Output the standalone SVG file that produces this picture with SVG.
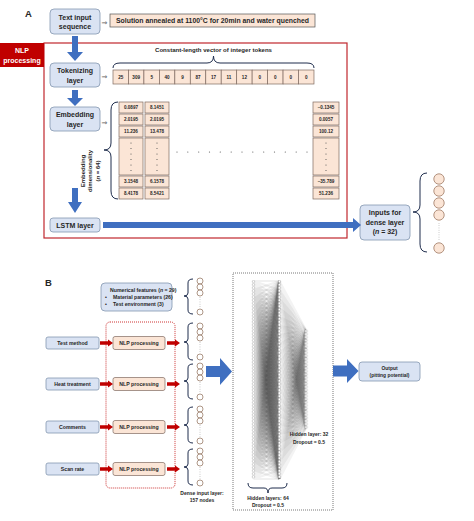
<svg xmlns="http://www.w3.org/2000/svg" xmlns:xlink="http://www.w3.org/1999/xlink" width="474" height="521" viewBox="0 0 474 521">
<style>
.t{font-family:"Liberation Sans",Arial,sans-serif;font-weight:bold;fill:#262626;text-anchor:middle}
.bl{fill:#dae3f3;stroke:#8497b0;stroke-width:0.8}
.pc{fill:#fbe5d6;stroke:#7f6a60;stroke-width:0.7}
.br{fill:none;stroke:#1f2d4d;stroke-width:1}
.ba{fill:#3f6fc0}
.ra{fill:#c00000}
.cir{fill:#fbe5d6;stroke:#a07a64;stroke-width:0.8}
.cb{fill:#fff;stroke:#8c6b55;stroke-width:0.7}
.dl{stroke:#999;stroke-width:0.7;stroke-dasharray:0.7 1.6}
.ar{font-family:"DejaVu Sans",sans-serif;font-size:7px;fill:#595959;text-anchor:middle}
.f1{fill:none;stroke:#333;stroke-opacity:0.07;stroke-width:2;vector-effect:non-scaling-stroke}
.f2{fill:none;stroke:#333;stroke-opacity:0.06;stroke-width:2;vector-effect:non-scaling-stroke}
</style>
<defs>
<pattern id="nd" x="0" y="0" width="5" height="3.1" patternUnits="userSpaceOnUse">
<circle cx="2.5" cy="1.55" r="1.3" fill="#fff" stroke="#aaa" stroke-width="0.5"/>
</pattern>
<rect id="col64" x="0" y="0" width="5" height="198.4" fill="url(#nd)"/>
<rect id="col32" x="0" y="0" width="5" height="99.2" fill="url(#nd)"/>
<path id="fan1" class="f1" d="M0 0L26 0M0 0L26 9M0 0L26 18M0 0L26 27M0 0L26 36M0 0L26 45M0 0L26 54M0 0L26 63M0 0L26 72M0 0L26 81M0 0L26 90M0 0L26 99M0 0L26 108M0 0L26 117M0 0L26 126M0 0L26 135M0 0L26 144M0 0L26 153M0 0L26 162M0 0L26 171M0 0L26 180M0 0L26 189M0 0L26 198"/>
<path id="fan2" class="f2" d="M0 0L26.5 49M0 0L26.5 57.9M0 0L26.5 66.8M0 0L26.5 75.7M0 0L26.5 84.6M0 0L26.5 93.5M0 0L26.5 102.5M0 0L26.5 111.4M0 0L26.5 120.3M0 0L26.5 129.2M0 0L26.5 138.1M0 0L26.5 147"/>
</defs>
<rect width="474" height="521" fill="#fff"/>

<!-- Panel A -->
<text class="t" x="28.5" y="17" font-size="9.5">A</text>

<g id="nlp-frame">
<rect x="44" y="43" width="303" height="195" fill="none" stroke="#c0272d" stroke-width="1.2"/>
<rect x="0" y="43" width="44" height="24" fill="#c00000"/>
<text class="t" x="22" y="53" font-size="7" style="fill:#fff">NLP</text>
<text class="t" x="22" y="62.5" font-size="7" style="fill:#fff">processing</text>
</g>

<g id="text-input">
<rect class="bl" x="50" y="9" width="50" height="25" rx="4"/>
<text class="t" x="75" y="19.5" font-size="7">Text input</text>
<text class="t" x="75" y="29" font-size="7">sequence</text>
</g>
<g id="solution">
<rect class="pc" x="110" y="14" width="205" height="13" style="stroke:#555"/>
<text class="t" x="212.5" y="23.2" font-size="7.2" textLength="193" lengthAdjust="spacingAndGlyphs">Solution annealed at 1100°C for 20min and water quenched</text>
</g>

<g id="tokenizing">
<rect class="bl" x="50" y="63" width="50" height="24" rx="4"/>
<text class="t" x="75" y="73" font-size="7">Tokenizing</text>
<text class="t" x="75" y="82.5" font-size="7">layer</text>
</g>

<g id="tokens">
<text class="t" x="213.5" y="51.5" font-size="6" textLength="117" lengthAdjust="spacingAndGlyphs">Constant-length vector of integer tokens</text>
<path class="br" d="M113,68 Q113,63 120,63 L207,63 Q213.5,63 213.5,56 Q213.5,63 220,63 L307,63 Q314,63 314,68"/>
<g font-size="4.6">
<rect class="pc" x="113" y="70" width="15.46" height="14"/><text class="t" x="120.7" y="78.8">25</text>
<rect class="pc" x="128.46" y="70" width="15.46" height="14"/><text class="t" x="136.2" y="78.8">309</text>
<rect class="pc" x="143.92" y="70" width="15.46" height="14"/><text class="t" x="151.7" y="78.8">5</text>
<rect class="pc" x="159.38" y="70" width="15.46" height="14"/><text class="t" x="167.1" y="78.8">40</text>
<rect class="pc" x="174.84" y="70" width="15.46" height="14"/><text class="t" x="182.6" y="78.8">9</text>
<rect class="pc" x="190.3" y="70" width="15.46" height="14"/><text class="t" x="198" y="78.8">87</text>
<rect class="pc" x="205.76" y="70" width="15.46" height="14"/><text class="t" x="213.5" y="78.8">17</text>
<rect class="pc" x="221.22" y="70" width="15.46" height="14"/><text class="t" x="229" y="78.8">11</text>
<rect class="pc" x="236.68" y="70" width="15.46" height="14"/><text class="t" x="244.4" y="78.8">12</text>
<rect class="pc" x="252.14" y="70" width="15.46" height="14"/><text class="t" x="259.9" y="78.8">0</text>
<rect class="pc" x="267.6" y="70" width="15.46" height="14"/><text class="t" x="275.3" y="78.8">0</text>
<rect class="pc" x="283.06" y="70" width="15.46" height="14"/><text class="t" x="290.8" y="78.8">0</text>
<rect class="pc" x="298.52" y="70" width="15.46" height="14"/><text class="t" x="306.3" y="78.8">0</text>
</g>
</g>

<g id="embedding">
<rect class="bl" x="50" y="107" width="50" height="24" rx="4"/>
<text class="t" x="75" y="117" font-size="7">Embedding</text>
<text class="t" x="75" y="126.5" font-size="7">layer</text>
</g>

<g id="embedding-matrix">
<path class="br" d="M118,102 Q111,102 111,110 L111,143 Q111,150 104,150 Q111,150 111,157 L111,191 Q111,199 118,199"/>
<g font-size="6">
<text class="t" transform="translate(85 171) rotate(-90)">Embedding</text>
<text class="t" transform="translate(92.3 171) rotate(-90)">dimensionality</text>
<text class="t" transform="translate(99.6 171) rotate(-90)">(<tspan font-style="italic">n</tspan> = 64)</text>
</g>
<g font-size="4.6">
<rect class="pc" x="119" y="102" width="24" height="11"/><text class="t" x="131" y="109.2">0.0897</text>
<rect class="pc" x="119" y="114" width="24" height="11"/><text class="t" x="131" y="121.2">2.0195</text>
<rect class="pc" x="119" y="126" width="24" height="11"/><text class="t" x="131" y="133.2">11.236</text>
<rect class="pc" x="119" y="138" width="24" height="37"/>
<rect class="pc" x="119" y="176" width="24" height="11"/><text class="t" x="131" y="183.2">3.1548</text>
<rect class="pc" x="119" y="188" width="24" height="11"/><text class="t" x="131" y="195.2">8.4178</text>
<rect class="pc" x="145" y="102" width="24" height="11"/><text class="t" x="157" y="109.2">8.1451</text>
<rect class="pc" x="145" y="114" width="24" height="11"/><text class="t" x="157" y="121.2">2.0195</text>
<rect class="pc" x="145" y="126" width="24" height="11"/><text class="t" x="157" y="133.2">13.478</text>
<rect class="pc" x="145" y="138" width="24" height="37"/>
<rect class="pc" x="145" y="176" width="24" height="11"/><text class="t" x="157" y="183.2">6.1578</text>
<rect class="pc" x="145" y="188" width="24" height="11"/><text class="t" x="157" y="195.2">8.5421</text>
<rect class="pc" x="313" y="102" width="26" height="11"/><text class="t" x="326" y="109.2">−0.1345</text>
<rect class="pc" x="313" y="114" width="26" height="11"/><text class="t" x="326" y="121.2">0.0057</text>
<rect class="pc" x="313" y="126" width="26" height="11"/><text class="t" x="326" y="133.2">100.12</text>
<rect class="pc" x="313" y="138" width="26" height="37"/>
<rect class="pc" x="313" y="176" width="26" height="11"/><text class="t" x="326" y="183.2">−35.789</text>
<rect class="pc" x="313" y="188" width="26" height="11"/><text class="t" x="326" y="195.2">51.236</text>
</g>
<g fill="#555">
<circle cx="131" cy="143" r="0.6"/><circle cx="131" cy="148.5" r="0.6"/><circle cx="131" cy="154" r="0.6"/><circle cx="131" cy="159.5" r="0.6"/><circle cx="131" cy="165" r="0.6"/><circle cx="131" cy="170.5" r="0.6"/>
<circle cx="157" cy="143" r="0.6"/><circle cx="157" cy="148.5" r="0.6"/><circle cx="157" cy="154" r="0.6"/><circle cx="157" cy="159.5" r="0.6"/><circle cx="157" cy="165" r="0.6"/><circle cx="157" cy="170.5" r="0.6"/>
<circle cx="326" cy="143" r="0.6"/><circle cx="326" cy="148.5" r="0.6"/><circle cx="326" cy="154" r="0.6"/><circle cx="326" cy="159.5" r="0.6"/><circle cx="326" cy="165" r="0.6"/><circle cx="326" cy="170.5" r="0.6"/>
<circle cx="177" cy="152" r="0.6"/><circle cx="187.8" cy="152" r="0.6"/><circle cx="198.7" cy="152" r="0.6"/><circle cx="209.5" cy="152" r="0.6"/><circle cx="220.3" cy="152" r="0.6"/><circle cx="231.2" cy="152" r="0.6"/><circle cx="242" cy="152" r="0.6"/><circle cx="252.8" cy="152" r="0.6"/><circle cx="263.7" cy="152" r="0.6"/><circle cx="274.5" cy="152" r="0.6"/><circle cx="285.3" cy="152" r="0.6"/><circle cx="296.2" cy="152" r="0.6"/><circle cx="307" cy="152" r="0.6"/>
</g>
</g>

<g id="lstm">
<rect class="bl" x="50" y="218" width="50" height="14" rx="3"/>
<text class="t" x="75" y="227.6" font-size="7">LSTM layer</text>
</g>

<g id="dense-inputs">
<rect class="bl" x="360" y="205" width="50" height="35" rx="4"/>
<text class="t" x="385" y="215" font-size="7">Inputs for</text>
<text class="t" x="385" y="224.5" font-size="7">dense layer</text>
<text class="t" x="385" y="234" font-size="7">(<tspan font-style="italic">n</tspan> = 32)</text>
</g>

<g id="dense-nodes-a">
<path class="br" d="M427,173 Q420,173 420,181 L420,205 Q420,212 413,212 Q420,212 420,219 L420,244 Q420,252 427,252"/>
<circle class="cir" cx="439" cy="179" r="5.2"/>
<circle class="cir" cx="439" cy="191" r="5.2"/>
<circle class="cir" cx="439" cy="203" r="5.2"/>
<circle class="cir" cx="439" cy="215" r="5.2"/>
<line class="dl" x1="439" y1="223" x2="439" y2="241"/>
<circle class="cir" cx="439" cy="248" r="5.2"/>
</g>

<!-- Panel B -->
<text class="t" x="48.5" y="286" font-size="9.5">B</text>

<g id="numerical">
<rect class="bl" x="101" y="283" width="71" height="28" rx="4"/>
<g font-size="5.2" style="text-anchor:start">
<text class="t" x="110" y="291.5" style="text-anchor:start">Numerical features (<tspan font-style="italic">n</tspan> = 29)</text>
<text class="t" x="105" y="298.8" style="text-anchor:start">•</text><text class="t" x="113" y="298.8" style="text-anchor:start">Material parameters (26)</text>
<text class="t" x="105" y="306" style="text-anchor:start">•</text><text class="t" x="113" y="306" style="text-anchor:start">Test environment (3)</text>
</g>
</g>

<g id="nlp-group">
<rect x="106" y="322" width="69" height="166" rx="4" fill="none" stroke="#c00000" stroke-width="0.8" stroke-dasharray="1 1"/>
</g>

<g id="test-method">
<rect class="bl" x="46" y="337" width="53" height="12" rx="2"/>
<text class="t" x="72.5" y="344.8" font-size="5.2">Test method</text>
</g>
<g id="heat-treatment">
<rect class="bl" x="46" y="378" width="53" height="12" rx="2"/>
<text class="t" x="72.5" y="385.8" font-size="5.2">Heat treatment</text>
</g>
<g id="comments">
<rect class="bl" x="46" y="421" width="53" height="12" rx="2"/>
<text class="t" x="72.5" y="428.8" font-size="5.2">Comments</text>
</g>
<g id="scan-rate">
<rect class="bl" x="46" y="463" width="53" height="12" rx="2"/>
<text class="t" x="72.5" y="470.8" font-size="5.2">Scan rate</text>
</g>

<g id="nlp1"><rect class="pc" x="113" y="336.5" width="52" height="13" rx="2"/><text class="t" x="139" y="344.8" font-size="5.2">NLP processing</text></g>
<g id="nlp2"><rect class="pc" x="113" y="377.5" width="52" height="13" rx="2"/><text class="t" x="139" y="385.8" font-size="5.2">NLP processing</text></g>
<g id="nlp3"><rect class="pc" x="113" y="420.5" width="52" height="13" rx="2"/><text class="t" x="139" y="428.8" font-size="5.2">NLP processing</text></g>
<g id="nlp4"><rect class="pc" x="113" y="462.5" width="52" height="13" rx="2"/><text class="t" x="139" y="470.8" font-size="5.2">NLP processing</text></g>

<g id="dense-input-layer">
<path class="br" d="M193,279 Q188,279 188,283 L188,293 Q188,296 184,296 Q188,296 188,299 L188,310 Q188,314 193,314"/>
<path class="br" d="M193,323 Q188,323 188,327 L188,339 Q188,342 184,342 Q188,342 188,345 L188,356 Q188,360 193,360"/>
<path class="br" d="M193,364 Q188,364 188,368 L188,378 Q188,381 184,381 Q188,381 188,384 L188,395 Q188,399 193,399"/>
<path class="br" d="M193,407 Q188,407 188,411 L188,422 Q188,425 184,425 Q188,425 188,428 L188,439 Q188,443 193,443"/>
<path class="br" d="M193,449 Q188,449 188,453 L188,464 Q188,467 184,467 Q188,467 188,470 L188,481 Q188,485 193,485"/>
<circle class="cb" cx="200" cy="281" r="3"/><circle class="cb" cx="200" cy="287" r="3"/><circle class="cb" cx="200" cy="293" r="3"/><line class="dl" x1="200" y1="297" x2="200" y2="308"/><circle class="cb" cx="200" cy="312" r="3"/>
<circle class="cb" cx="200" cy="326" r="3"/><circle class="cb" cx="200" cy="332" r="3"/><circle class="cb" cx="200" cy="338" r="3"/><line class="dl" x1="200" y1="342" x2="200" y2="353"/><circle class="cb" cx="200" cy="357" r="3"/>
<circle class="cb" cx="200" cy="366" r="3"/><circle class="cb" cx="200" cy="372" r="3"/><circle class="cb" cx="200" cy="378" r="3"/><line class="dl" x1="200" y1="382" x2="200" y2="393"/><circle class="cb" cx="200" cy="397" r="3"/>
<circle class="cb" cx="200" cy="409" r="3"/><circle class="cb" cx="200" cy="415" r="3"/><circle class="cb" cx="200" cy="421" r="3"/><line class="dl" x1="200" y1="425" x2="200" y2="437"/><circle class="cb" cx="200" cy="441" r="3"/>
<circle class="cb" cx="200" cy="451" r="3"/><circle class="cb" cx="200" cy="457" r="3"/><circle class="cb" cx="200" cy="463" r="3"/><line class="dl" x1="200" y1="467" x2="200" y2="479"/><circle class="cb" cx="200" cy="483" r="3"/>
<text class="t" x="202" y="494.5" font-size="5">Dense input layer:</text>
<text class="t" x="202" y="501.5" font-size="5">157 nodes</text>
</g>

<g id="hidden-network">
<rect x="233" y="273" width="100" height="237" fill="none" stroke="#555" stroke-width="0.8" stroke-dasharray="1 1"/>
<use xlink:href="#fan1" transform="matrix(1 0 0 1 253.5 281)"/>
<use xlink:href="#fan1" transform="matrix(1 -0.3462 0 1 253.5 290)"/>
<use xlink:href="#fan1" transform="matrix(1 -0.6923 0 1 253.5 299)"/>
<use xlink:href="#fan1" transform="matrix(1 -1.0385 0 1 253.5 308)"/>
<use xlink:href="#fan1" transform="matrix(1 -1.3846 0 1 253.5 317)"/>
<use xlink:href="#fan1" transform="matrix(1 -1.7308 0 1 253.5 326)"/>
<use xlink:href="#fan1" transform="matrix(1 -2.0769 0 1 253.5 335)"/>
<use xlink:href="#fan1" transform="matrix(1 -2.4231 0 1 253.5 344)"/>
<use xlink:href="#fan1" transform="matrix(1 -2.7692 0 1 253.5 353)"/>
<use xlink:href="#fan1" transform="matrix(1 -3.1154 0 1 253.5 362)"/>
<use xlink:href="#fan1" transform="matrix(1 -3.4615 0 1 253.5 371)"/>
<use xlink:href="#fan1" transform="matrix(1 -3.8077 0 1 253.5 380)"/>
<use xlink:href="#fan1" transform="matrix(1 -4.1538 0 1 253.5 389)"/>
<use xlink:href="#fan1" transform="matrix(1 -4.5 0 1 253.5 398)"/>
<use xlink:href="#fan1" transform="matrix(1 -4.8462 0 1 253.5 407)"/>
<use xlink:href="#fan1" transform="matrix(1 -5.1923 0 1 253.5 416)"/>
<use xlink:href="#fan1" transform="matrix(1 -5.5385 0 1 253.5 425)"/>
<use xlink:href="#fan1" transform="matrix(1 -5.8846 0 1 253.5 434)"/>
<use xlink:href="#fan1" transform="matrix(1 -6.2308 0 1 253.5 443)"/>
<use xlink:href="#fan1" transform="matrix(1 -6.5769 0 1 253.5 452)"/>
<use xlink:href="#fan1" transform="matrix(1 -6.9231 0 1 253.5 461)"/>
<use xlink:href="#fan1" transform="matrix(1 -7.2692 0 1 253.5 470)"/>
<use xlink:href="#fan1" transform="matrix(1 -7.6154 0 1 253.5 479)"/>
<use xlink:href="#fan2" transform="matrix(1 0 0 1 279.5 281)"/>
<use xlink:href="#fan2" transform="matrix(1 -0.3396 0 1 279.5 290)"/>
<use xlink:href="#fan2" transform="matrix(1 -0.6792 0 1 279.5 299)"/>
<use xlink:href="#fan2" transform="matrix(1 -1.0189 0 1 279.5 308)"/>
<use xlink:href="#fan2" transform="matrix(1 -1.3585 0 1 279.5 317)"/>
<use xlink:href="#fan2" transform="matrix(1 -1.6981 0 1 279.5 326)"/>
<use xlink:href="#fan2" transform="matrix(1 -2.0377 0 1 279.5 335)"/>
<use xlink:href="#fan2" transform="matrix(1 -2.3774 0 1 279.5 344)"/>
<use xlink:href="#fan2" transform="matrix(1 -2.717 0 1 279.5 353)"/>
<use xlink:href="#fan2" transform="matrix(1 -3.0566 0 1 279.5 362)"/>
<use xlink:href="#fan2" transform="matrix(1 -3.3962 0 1 279.5 371)"/>
<use xlink:href="#fan2" transform="matrix(1 -3.7358 0 1 279.5 380)"/>
<use xlink:href="#fan2" transform="matrix(1 -4.0755 0 1 279.5 389)"/>
<use xlink:href="#fan2" transform="matrix(1 -4.4151 0 1 279.5 398)"/>
<use xlink:href="#fan2" transform="matrix(1 -4.7547 0 1 279.5 407)"/>
<use xlink:href="#fan2" transform="matrix(1 -5.0943 0 1 279.5 416)"/>
<use xlink:href="#fan2" transform="matrix(1 -5.434 0 1 279.5 425)"/>
<use xlink:href="#fan2" transform="matrix(1 -5.7736 0 1 279.5 434)"/>
<use xlink:href="#fan2" transform="matrix(1 -6.1132 0 1 279.5 443)"/>
<use xlink:href="#fan2" transform="matrix(1 -6.4528 0 1 279.5 452)"/>
<use xlink:href="#fan2" transform="matrix(1 -6.7925 0 1 279.5 461)"/>
<use xlink:href="#fan2" transform="matrix(1 -7.1321 0 1 279.5 470)"/>
<use xlink:href="#fan2" transform="matrix(1 -7.4717 0 1 279.5 479)"/>
<use xlink:href="#col64" x="251" y="280"/>
<use xlink:href="#col64" x="277" y="280"/>
<use xlink:href="#col32" x="303.5" y="329.5"/>
<path class="br" d="M248,483 Q248,488 253,488 L264,488 Q268,488 268,493 Q268,488 272,488 L282,488 Q287,488 287,483"/>
<text class="t" x="268" y="500" font-size="5">Hidden layers: 64</text>
<text class="t" x="268" y="507" font-size="5">Dropout = 0.5</text>
<text class="t" x="309" y="436" font-size="5">Hidden layer: 32</text>
<text class="t" x="309" y="443.5" font-size="5">Dropout = 0.5</text>
</g>

<g id="output">
<rect class="bl" x="359" y="362" width="61" height="19" rx="3"/>
<text class="t" x="389.5" y="369.8" font-size="4.9">Output</text>
<text class="t" x="389.5" y="377.3" font-size="4.9">(pitting potential)</text>
</g>

<g id="connectors">
<text class="ar" x="104.5" y="24.5">⇒</text>
<text class="ar" x="104.5" y="78.5">⇒</text>
<text class="ar" x="104.5" y="124.5">⇒</text>
<polygon class="ba" points="72,36 78,36 78,52 83,52 75,61 67,52 72,52"/>
<polygon class="ba" points="72,90 78,90 78,98 83,98 75,106 67,98 72,98"/>
<polygon class="ba" points="72,188 78,188 78,202 82,202 75,213 68,202 72,202"/>
<polygon class="ba" points="103,222 353,222 353,218 361,225 353,232 353,228 103,228"/>
<polygon class="ra" points="100,341.2 108,341.2 108,339.5 113,343 108,346.5 108,344.8 100,344.8"/>
<polygon class="ra" points="100,382.2 108,382.2 108,380.5 113,384 108,387.5 108,385.8 100,385.8"/>
<polygon class="ra" points="100,425.2 108,425.2 108,423.5 113,427 108,430.5 108,428.8 100,428.8"/>
<polygon class="ra" points="100,467.2 108,467.2 108,465.5 113,469 108,472.5 108,470.8 100,470.8"/>
<polygon class="ra" points="167,341.2 175,341.2 175,339.5 180,343 175,346.5 175,344.8 167,344.8"/>
<polygon class="ra" points="167,382.2 175,382.2 175,380.5 180,384 175,387.5 175,385.8 167,385.8"/>
<polygon class="ra" points="167,425.2 175,425.2 175,423.5 180,427 175,430.5 175,428.8 167,428.8"/>
<polygon class="ra" points="167,467.2 175,467.2 175,465.5 180,469 175,472.5 175,470.8 167,470.8"/>
<polygon class="ba" points="206,366 220,366 220,358 232,371.5 220,385 220,377 206,377"/>
<polygon class="ba" points="333,365.5 347,365.5 347,359 358.5,371 347,383 347,376.5 333,376.5"/>
</g>
</svg>
